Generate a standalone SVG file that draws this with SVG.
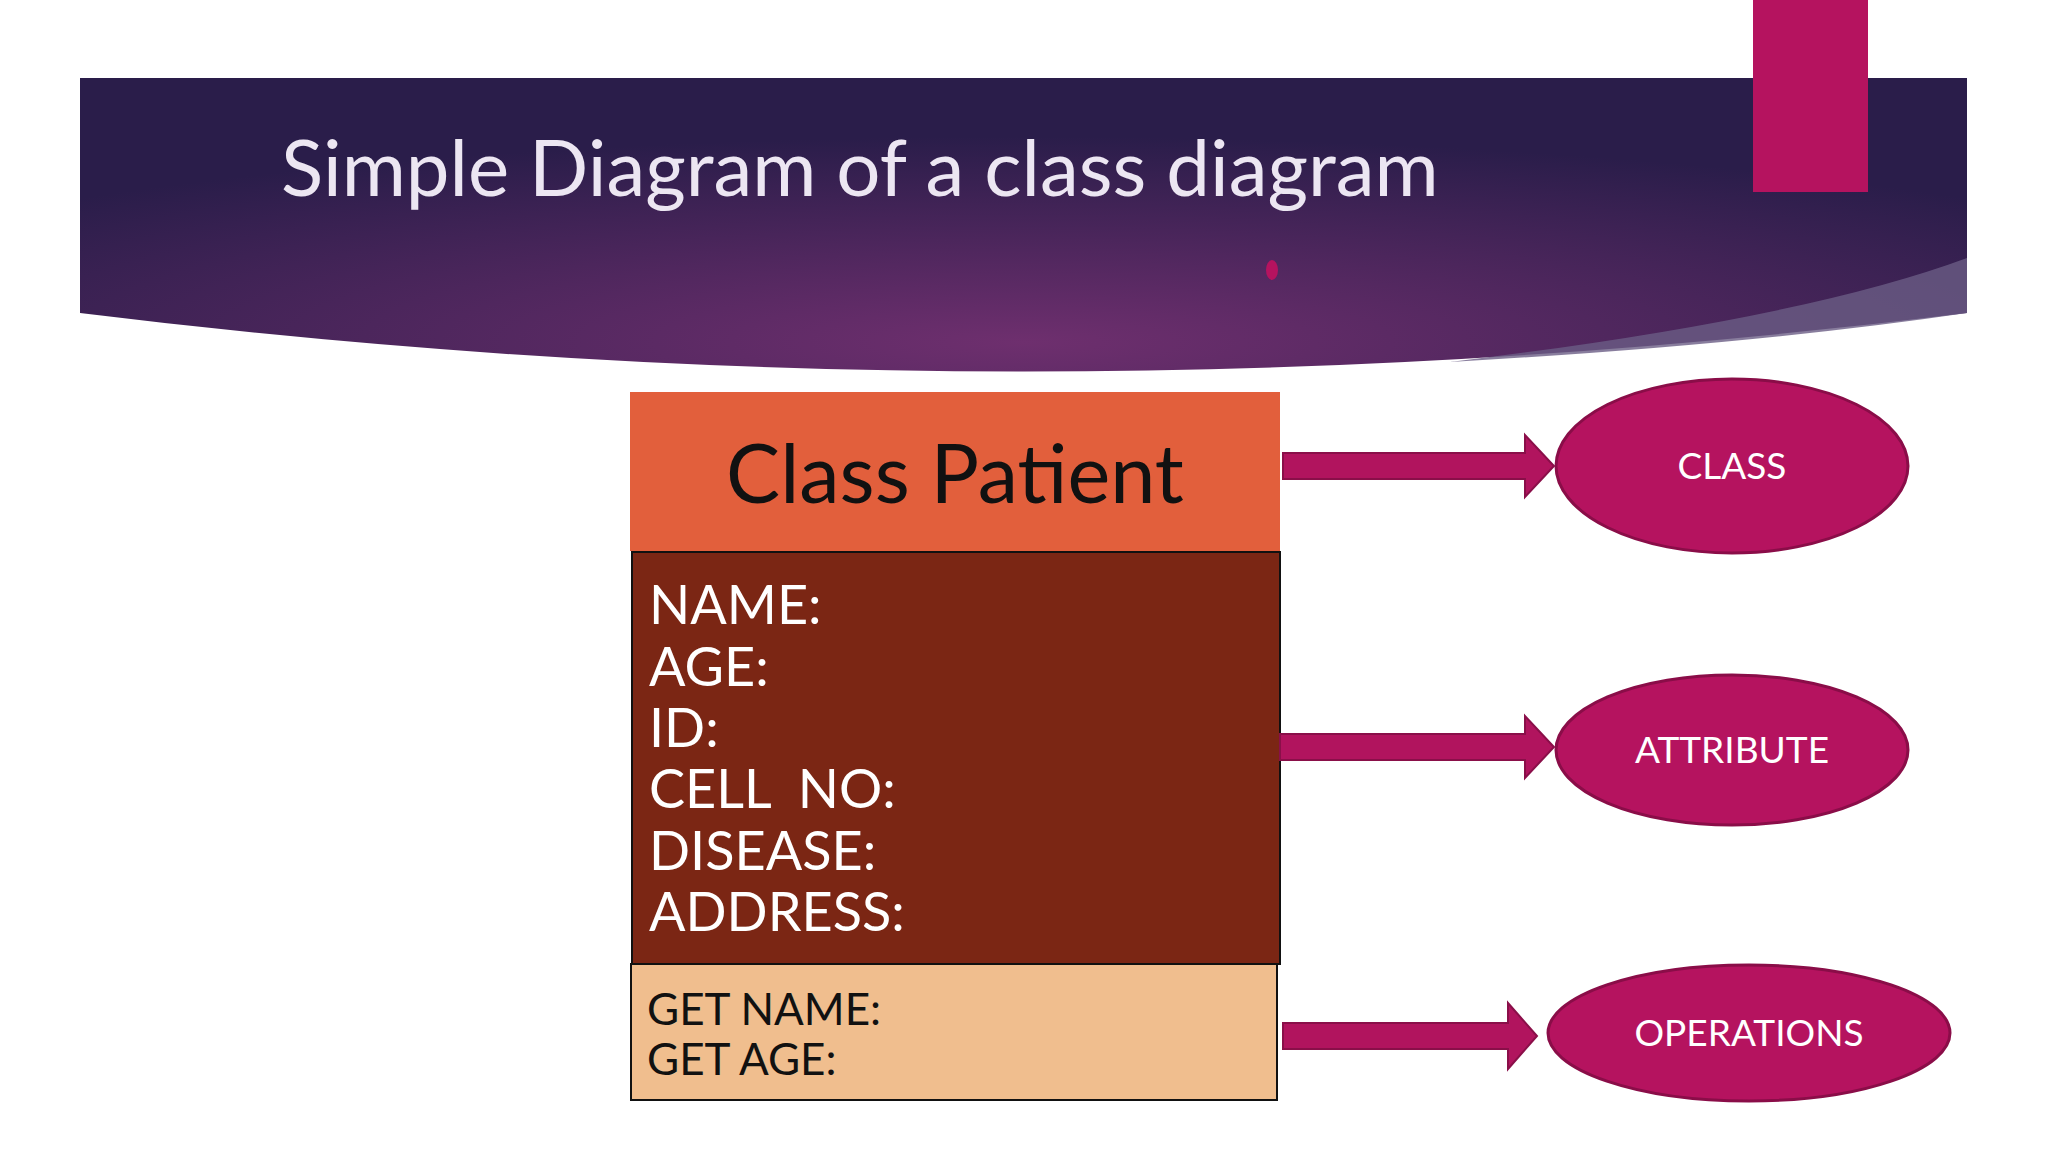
<svg xmlns="http://www.w3.org/2000/svg" width="2048" height="1152" viewBox="0 0 2048 1152">
<defs>
<radialGradient id="bg" cx="0.5" cy="0.9" r="0.7">
<stop offset="0" stop-color="#6e2f6e"/><stop offset="1" stop-color="#2a1d4a"/>
</radialGradient>
<style>
.t{font-family:Lato,"Open Sans",sans-serif}
.arr{fill:#b1145e;stroke:#8a0f49;stroke-width:2}
.ell{fill:#b5135f;stroke:#8a0d48;stroke-width:3}
.el{font-family:Lato,"Open Sans",sans-serif;font-size:37px;fill:#fff;text-anchor:middle}
.at{font-family:Lato,"Open Sans",sans-serif;font-size:54px;fill:#fff}
.op{font-family:Lato,"Open Sans",sans-serif;font-size:44px;fill:#111}
</style>
</defs>
<rect width="2048" height="1152" fill="#fff"/>
<g id="banner">
<path d="M80 78 H1967 V313 Q1024 430 80 313 Z" fill="url(#bg)"/>
<path d="M1450 362 Q1800 320 1967 258 V313 Q1750 345 1450 362 Z" fill="#6a5d85" opacity="0.8"/>
<rect x="1753" y="0" width="115" height="192" fill="#b5135f"/>
<ellipse cx="1272" cy="270" rx="6" ry="10" fill="#b5135f"/>
<text class="t" x="281" y="196" font-size="78" fill="#ece6f2">Simple Diagram of a class diagram</text>
</g>
<g id="class-box">
<rect x="630" y="392" width="650" height="159" fill="#e25f3c"/>
<text class="t" x="955" y="503" font-size="81" fill="#111" text-anchor="middle">Class Patient</text>
</g>
<g id="attributes">
<rect x="632" y="552" width="648" height="412" fill="#7b2614" stroke="#111" stroke-width="2"/>
<text class="at" x="649" y="624">NAME:</text>
<text class="at" x="649" y="686">AGE:</text>
<text class="at" x="649" y="747">ID:</text>
<text class="at" x="649" y="808" xml:space="preserve">CELL  NO:</text>
<text class="at" x="649" y="870">DISEASE:</text>
<text class="at" x="649" y="931">ADDRESS:</text>
</g>
<g id="operations">
<rect x="631" y="964" width="646" height="136" fill="#f0be8e" stroke="#111" stroke-width="2"/>
<text class="op" x="647" y="1025">GET NAME:</text>
<text class="op" x="647" y="1075">GET AGE:</text>
</g>
<g id="connectors">
<path class="arr" d="M1283 453 H1525 V435 L1554 466 L1525 497 V479 H1283 Z"/>
<path class="arr" d="M1280 734 H1525 V716 L1554 747 L1525 778 V760 H1280 Z"/>
<path class="arr" d="M1283 1023 H1508 V1003 L1537 1036 L1508 1069 V1049 H1283 Z"/>
</g>
<g id="n-class"><ellipse class="ell" cx="1732" cy="466" rx="176" ry="87"/><text class="el" x="1732" y="479">CLASS</text></g>
<g id="n-attribute"><ellipse class="ell" cx="1732" cy="750" rx="176" ry="75"/><text class="el" x="1732" y="763">ATTRIBUTE</text></g>
<g id="n-operations"><ellipse class="ell" cx="1749" cy="1033" rx="201" ry="68"/><text class="el" x="1749" y="1046">OPERATIONS</text></g>
</svg>
